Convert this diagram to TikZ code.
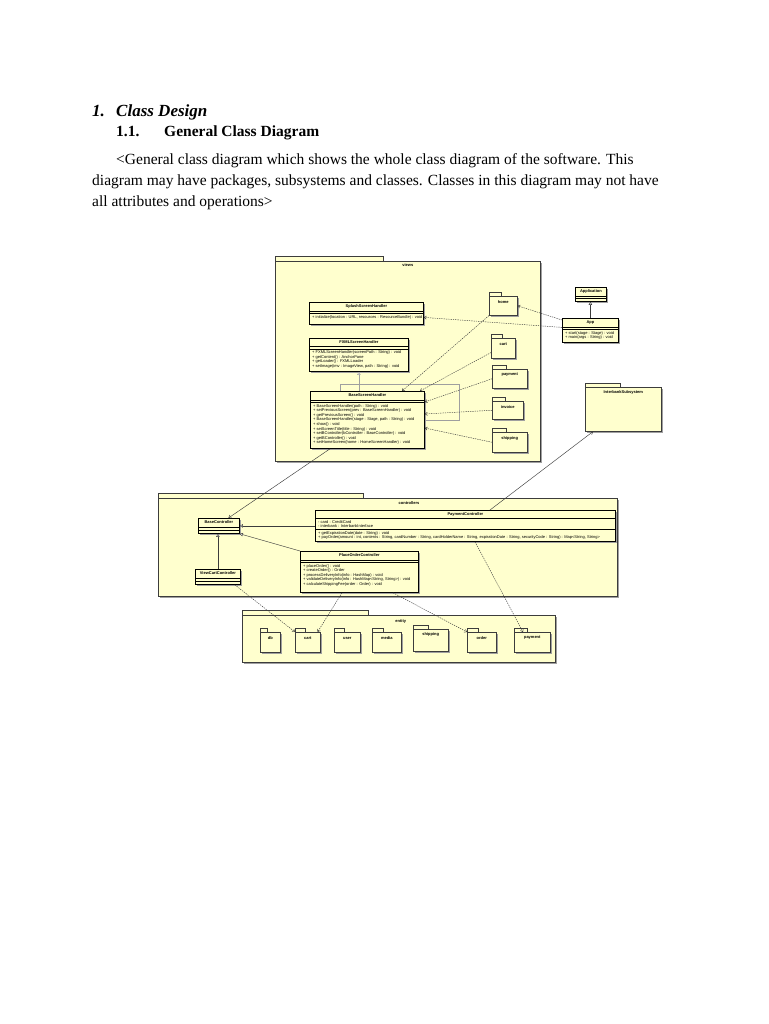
\documentclass[tikz,border=0pt]{standalone}
\usepackage{fontspec}
\setmainfont{Liberation Serif}
\newfontfamily\umlsans{Liberation Sans}
\usetikzlibrary{arrows.meta,calc,positioning,shadows}
\definecolor{umlfill}{RGB}{255,255,206}
\definecolor{umlline}{RGB}{60,60,60}
\definecolor{umlshadow}{RGB}{160,160,160}
\newcommand{\umlfont}{\umlsans\fontsize{4}{4.6}\selectfont}
\newcommand{\umlbold}{\umlsans\bfseries\fontsize{4}{4.6}\selectfont}
\tikzset{
  pkg/.style={draw=umlline, fill=umlfill, line width=0.55pt, inner sep=0pt, anchor=north west,
    drop shadow={shadow xshift=1.3pt, shadow yshift=-1.3pt, opacity=1, fill=umlshadow}},
  pkgtab/.style={draw=umlline, fill=umlfill, line width=0.4pt, inner sep=0pt, anchor=south west, minimum height=5},
  pname/.style={font=\umlbold, inner sep=0pt},
  cls/.style={draw=black, fill=umlfill, line width=0.8pt, inner sep=0pt, anchor=north west,
    drop shadow={shadow xshift=1.2pt, shadow yshift=-1.2pt, opacity=1, fill=umlshadow}},
  cname/.style={font=\umlbold, inner sep=0pt},
  members/.style={font=\umlfont, align=left, inner sep=0pt, anchor=north west},
  cmpline/.style={line width=0.5pt},
  dep/.style={umlline, line width=0.45pt, dash pattern=on 1.3pt off 1pt, -{Straight Barb[length=2.2pt,width=3.2pt]}},
  assoc/.style={umlline, line width=0.45pt, -{Straight Barb[length=2.6pt,width=3.6pt]}},
  inherit/.style={umlline, line width=0.45pt, -{Triangle[open,length=3pt,width=3.4pt,fill=white]}},
  pagetext/.style={anchor=base west, inner sep=0pt, font=\fontsize{15.5}{18}\selectfont},
}
\begin{document}
\begin{tikzpicture}[x=1pt,y=-1pt]
\useasboundingbox (0,0) rectangle (768,1024);
\fill[white] (0,0) rectangle (768,1024);

% page heading
\node[pagetext, font=\bfseries\itshape\fontsize{17}{20}\selectfont] (h1num) at (92,117) {1.};
\node[pagetext, font=\bfseries\itshape\fontsize{17}{20}\selectfont] (h1) at (116,117) {Class Design};
\node[pagetext, font=\bfseries\fontsize{15.5}{18}\selectfont] (h2num) at (116,137) {1.1.};
\node[pagetext, font=\bfseries\fontsize{15.5}{18}\selectfont] (h2) at (164,137) {General Class Diagram};
\node[pagetext] (par1) at (116,165) {<General class diagram which shows the whole class diagram of the software. This};
\node[pagetext] (par2) at (92,186) {diagram may have packages, subsystems and classes. Classes in this diagram may not have};
\node[pagetext] (par3) at (92,207) {all attributes and operations>};

% views package
\node[pkg, minimum width=265, minimum height=200] (views) at (275,261) {};
\node[pkgtab, minimum width=108] (viewstab) at (views.north west) {};
\node[pname] (viewsname) at ($(views.north)+(0,4.5)$) {views};

% controllers package
\node[pkg, minimum width=459, minimum height=98] (ctrl) at (158,498) {};
\node[pkgtab, minimum width=205] (ctrltab) at (ctrl.north west) {};
\node[pname] (ctrlname) at ($(ctrl.north west)+(251,5)$) {controllers};

% entity package
\node[pkg, minimum width=313, minimum height=47] (entity) at (242,615) {};
\node[pkgtab, minimum width=126] (entitytab) at (entity.north west) {};
\node[pname] (entityname) at ($(entity.north)+(2,6)$) {entity};

% subsystem
\node[pkg, minimum width=76, minimum height=44] (ibs) at (585,387) {};
\node[pkgtab, minimum width=35, minimum height=4] (ibstab) at (ibs.north west) {};
\node[pname] (ibsname) at ($(ibs.north)+(0,5)$) {InterbankSubsystem};

% packages in views
\node[pkg, minimum width=28, minimum height=19] (home) at (489,296) {};
\node[pkgtab, minimum width=12, minimum height=4] (hometab) at (home.north west) {};
\node[pname] (homename) at ($(home.north)+(0,6)$) {home};
\node[pkg, minimum width=24, minimum height=20] (vcart) at (491,338) {};
\node[pkgtab, minimum width=11, minimum height=4] (vcarttab) at (vcart.north west) {};
\node[pname] (vcartname) at ($(vcart.north)+(0,6)$) {cart};
\node[pkg, minimum width=35, minimum height=19] (vpayment) at (492,369) {};
\node[pkgtab, minimum width=14, minimum height=4] (vpaymenttab) at (vpayment.north west) {};
\node[pname] (vpaymentname) at ($(vpayment.north)+(0,6)$) {payment};
\node[pkg, minimum width=31, minimum height=18] (invoice) at (492,401) {};
\node[pkgtab, minimum width=13, minimum height=4] (invoicetab) at (invoice.north west) {};
\node[pname] (invoicename) at ($(invoice.north)+(0,6)$) {invoice};
\node[pkg, minimum width=35, minimum height=20] (vshipping) at (492,432) {};
\node[pkgtab, minimum width=14, minimum height=4] (vshippingtab) at (vshipping.north west) {};
\node[pname] (vshippingname) at ($(vshipping.north)+(0,6)$) {shipping};

% packages in entity
\node[pkg, minimum width=20, minimum height=20] (db) at (260,632) {};
\node[pkgtab, minimum width=7, minimum height=4] (dbtab) at (db.north west) {};
\node[pname] (dbname) at ($(db.north)+(0,6)$) {db};
\node[pkg, minimum width=25, minimum height=20] (ecart) at (295,632) {};
\node[pkgtab, minimum width=10, minimum height=4] (ecarttab) at (ecart.north west) {};
\node[pname] (ecartname) at ($(ecart.north)+(0,6)$) {cart};
\node[pkg, minimum width=26, minimum height=20] (user) at (334,632) {};
\node[pkgtab, minimum width=10, minimum height=4] (usertab) at (user.north west) {};
\node[pname] (username) at ($(user.north)+(0,6)$) {user};
\node[pkg, minimum width=29, minimum height=20] (media) at (372,632) {};
\node[pkgtab, minimum width=11, minimum height=4] (mediatab) at (media.north west) {};
\node[pname] (medianame) at ($(media.north)+(0,6)$) {media};
\node[pkg, minimum width=35, minimum height=22] (eshipping) at (413,629) {};
\node[pkgtab, minimum width=15, minimum height=4] (eshippingtab) at (eshipping.north west) {};
\node[pname] (eshippingname) at ($(eshipping.north)+(0,5.5)$) {shipping};
\node[pkg, minimum width=29, minimum height=20] (order) at (467,632) {};
\node[pkgtab, minimum width=11, minimum height=4] (ordertab) at (order.north west) {};
\node[pname] (ordername) at ($(order.north)+(0,6)$) {order};
\node[pkg, minimum width=36, minimum height=20] (epayment) at (514,632) {};
\node[pkgtab, minimum width=13, minimum height=4] (epaymenttab) at (epayment.north west) {};
\node[pname] (epaymentname) at ($(epayment.north)+(0,6)$) {payment};

% classes in views
\node[cls, minimum width=114, minimum height=22] (splash) at (309,302) {};
\node[cname] (splashname) at ($(splash.north)+(0,4.5)$) {SplashScreenHandler};
\draw[cmpline] ($(splash.north west)+(0,9)$) -- ($(splash.north east)+(0,9)$);
\draw[cmpline] ($(splash.north west)+(0,11.5)$) -- ($(splash.north east)+(0,11.5)$);
\node[members] (splashops) at ($(splash.north west)+(3,13.5)$) {+ initialize(location : URL, resources : ResourceBundle) : void};

\node[cls, minimum width=99, minimum height=33] (fxml) at (309,338) {};
\node[cname] (fxmlname) at ($(fxml.north)+(0,4.5)$) {FXMLScreenHandler};
\draw[cmpline] ($(fxml.north west)+(0,8.5)$) -- ($(fxml.north east)+(0,8.5)$);
\draw[cmpline] ($(fxml.north west)+(0,11)$) -- ($(fxml.north east)+(0,11)$);
\node[members] (fxmlops) at ($(fxml.north west)+(3,12.5)$) {+ FXMLScreenHandler(screenPath : String) : void\\+ getContent() : AnchorPane\\+ getLoader() : FXMLLoader\\+ setImage(imv : ImageView, path : String) : void};

\node[cls, minimum width=114, minimum height=57] (base) at (310,391) {};
\node[cname] (basename) at ($(base.north)+(0,4.5)$) {BaseScreenHandler};
\draw[cmpline] ($(base.north west)+(0,9)$) -- ($(base.north east)+(0,9)$);
\draw[cmpline] ($(base.north west)+(0,11.5)$) -- ($(base.north east)+(0,11.5)$);
\node[members] (baseops) at ($(base.north west)+(3,13)$) {+ BaseScreenHandler(path : String) : void\\+ setPreviousScreen(prev : BaseScreenHandler) : void\\+ getPreviousScreen() : void\\+ BaseScreenHandler(stage : Stage, path : String) : void\\+ show() : void\\+ setScreenTitle(title : String) : void\\+ setBController(bController : BaseController) : void\\+ getBController() : void\\+ setHomeScreen(home : HomeScreenHandler) : void};

% application classes
\node[cls, minimum width=31, minimum height=14] (application) at (575,287) {};
\node[cname] (applicationname) at ($(application.north)+(0,4.5)$) {Application};
\draw[cmpline] ($(application.north west)+(0,9)$) -- ($(application.north east)+(0,9)$);
\draw[cmpline] ($(application.north west)+(0,11.5)$) -- ($(application.north east)+(0,11.5)$);

\node[cls, minimum width=56, minimum height=24] (app) at (562,318) {};
\node[cname] (appname) at ($(app.north)+(0,4.5)$) {App};
\draw[cmpline] ($(app.north west)+(0,9)$) -- ($(app.north east)+(0,9)$);
\draw[cmpline] ($(app.north west)+(0,11.5)$) -- ($(app.north east)+(0,11.5)$);
\node[members] (appops) at ($(app.north west)+(3,13)$) {+ start(stage : Stage) : void\\+ main(args : String) : void};

% classes in controllers
\node[cls, minimum width=41, minimum height=15] (bctrl) at (198,518) {};
\node[cname] (bctrlname) at ($(bctrl.north)+(0,4.5)$) {BaseController};
\draw[cmpline] ($(bctrl.north west)+(0,9)$) -- ($(bctrl.north east)+(0,9)$);
\draw[cmpline] ($(bctrl.north west)+(0,12)$) -- ($(bctrl.north east)+(0,12)$);

\node[cls, minimum width=45, minimum height=15] (vcc) at (195,569) {};
\node[cname] (vccname) at ($(vcc.north)+(0,4.5)$) {ViewCartController};
\draw[cmpline] ($(vcc.north west)+(0,9)$) -- ($(vcc.north east)+(0,9)$);
\draw[cmpline] ($(vcc.north west)+(0,12)$) -- ($(vcc.north east)+(0,12)$);

\node[cls, minimum width=300, minimum height=31] (payctrl) at (315,510) {};
\node[cname] (payctrlname) at ($(payctrl.north)+(0,4.5)$) {PaymentController};
\draw[cmpline] ($(payctrl.north west)+(0,8.5)$) -- ($(payctrl.north east)+(0,8.5)$);
\node[members] (payctrlattrs) at ($(payctrl.north west)+(3,10)$) {- card : CreditCard\\- interbank : InterbankInterface};
\draw[cmpline] ($(payctrl.north west)+(0,19.5)$) -- ($(payctrl.north east)+(0,19.5)$);
\node[members] (payctrlops) at ($(payctrl.north west)+(3,21)$) {+ getExpirationDate(date : String) : void\\+ payOrder(amount : int, contents : String, cardNumber : String, cardHolderName : String, expirationDate : String, securityCode : String) : Map<String, String>};

\node[cls, minimum width=118, minimum height=41] (place) at (300,551) {};
\node[cname] (placename) at ($(place.north)+(0,4.5)$) {PlaceOrderController};
\draw[cmpline] ($(place.north west)+(0,9)$) -- ($(place.north east)+(0,9)$);
\draw[cmpline] ($(place.north west)+(0,11.5)$) -- ($(place.north east)+(0,11.5)$);
\node[members] (placeops) at ($(place.north west)+(3,13)$) {+ placeOrder() : void\\+ createOrder() : Order\\+ processDeliveryInfo(info : HashMap) : void\\+ validateDeliveryInfo(info : HashMap<String, String>) : void\\+ calculateShippingFee(order : Order) : void};

% generalizations
\coordinate (genjoin) at ($(fxml.south)+(0,12)$);
\draw[inherit, draw=gray!75] ($(base.north west)+(30,0)$) |- (genjoin) -- (fxml.south);
\draw[gray!75, line width=0.45pt] (genjoin) -| ($(base.north east)+(34,29)$) -- ($(base.north east)+(0,29)$);
\draw[gray!75, line width=0.45pt] (genjoin) -- (genjoin |- base.north);
\draw[inherit] (app.north) -- (app.north |- application.south);
\draw[inherit] (vcc.north) -- (vcc.north |- bctrl.south);
\draw[inherit] (payctrl.west |- bctrl.east) -- (bctrl.east);
\draw[inherit] (place.north west) -- (bctrl.south east);

% dependencies
\draw[dep] (home.south west) -- ($(base.north west)+(92,0)$);
\draw[dep] ($(vcart.south west)+(0,-6)$) -- ($(base.north west)+(110,0)$);
\draw[dep] (vpayment.west) -- ($(base.north east)+(0,11)$);
\draw[dep] (invoice.west) -- ($(base.north east)+(0,23)$);
\draw[dep] (vshipping.west) -- ($(base.north east)+(0,37)$);
\draw[dep] ($(app.north west)+(0,2)$) -- (home.east);
\draw[dep] ($(app.west)+(0,-3)$) -- ($(splash.east)+(0,4)$);
\draw[dep] ($(vcc.south east)+(-6,0)$) -- (ecart.north west);
\draw[dep] ($(place.south west)+(42,0)$) -- ($(ecart.north east)+(-3,0)$);
\draw[dep] ($(place.south west)+(93,0)$) -- (order.north west);
\draw[dep] ($(payctrl.south west)+(160,0)$) -- ($(epayment.north west)+(9,0)$);

% associations
\draw[assoc] ($(base.south west)+(20,0)$) -- ($(bctrl.north)+(9.5,0)$);
\draw[assoc] ($(payctrl.north west)+(175,0)$) -- ($(ibs.south west)+(8,0)$);
\end{tikzpicture}
\end{document}
